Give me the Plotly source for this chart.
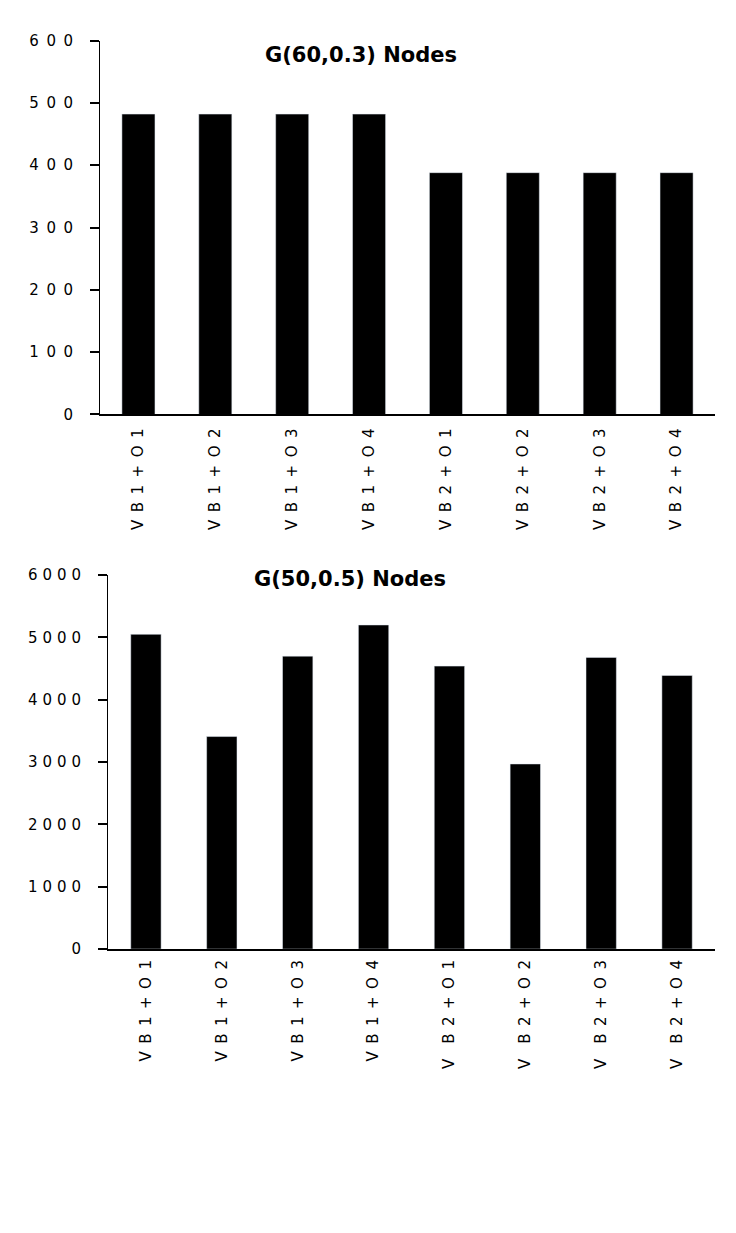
import plotly.graph_objects as go

W, H = 736, 1233
categories = ["VB1+O1", "VB1+O2", "VB1+O3", "VB1+O4", "VB2+O1", "VB2+O2", "VB2+O3", "VB2+O4"]
top_values = [482, 482, 482, 482, 388, 388, 388, 388]
bottom_values = [5050, 3410, 4700, 5200, 4540, 2970, 4680, 4390]
top_title = "G(60,0.3) Nodes"
bottom_title = "G(50,0.5) Nodes"
top_yticks = [0, 100, 200, 300, 400, 500, 600]
bottom_yticks = [0, 1000, 2000, 3000, 4000, 5000, 6000]

SP = "\u2002"   # en space to mimic letter spacing of original
SP3 = "\u2004"  # three-per-em space

def spaced(s, sep=SP):
    return sep.join(list(s))

def spaced_bottom(s):
    if s.startswith("VB2"):
        return "V" + SP + SP + SP.join(list(s[1:]))
    return SP.join(list(s))

top_ticktext = [spaced(c) for c in categories]
bottom_ticktext = [spaced_bottom(c) for c in categories]

def py(y):
    return 1 - y / H

def px(x):
    return x / W

FONT = "DejaVu Sans, Liberation Sans, Arial, sans-serif"

fig = go.Figure()
fig.add_trace(go.Bar(x=categories, y=top_values, marker_color="black", width=0.43,
                     xaxis="x", yaxis="y", showlegend=False))
fig.add_trace(go.Bar(x=categories, y=bottom_values, marker_color="black", width=0.40,
                     xaxis="x2", yaxis="y2", showlegend=False))

common_x = dict(showline=True, linecolor="black", linewidth=2, ticks="", showgrid=False,
                zeroline=False, tickangle=-90, tickfont=dict(family=FONT, size=15, color="black"),
                type="category")
common_y = dict(showline=True, linecolor="black", linewidth=1, ticks="outside", ticklen=9,
                tickwidth=2, tickcolor="black", showgrid=False, zeroline=False,
                tickfont=dict(family=FONT, size=15, color="black"), ticklabelstandoff=14)

fig.update_layout(
    width=W, height=H,
    margin=dict(l=0, r=0, t=0, b=0),
    paper_bgcolor="white", plot_bgcolor="white",
    bargap=0.57,
    xaxis=dict(common_x, domain=[px(100), px(715)], anchor="y",
               tickvals=categories, ticktext=top_ticktext, ticklabelstandoff=6),
    yaxis=dict(common_y, domain=[py(411.5), py(32)], range=[0, 600], anchor="x",
               tickvals=top_yticks, ticktext=[spaced(str(v)) for v in top_yticks]),
    xaxis2=dict(common_x, domain=[px(108), px(715)], anchor="y2",
                tickvals=categories, ticktext=bottom_ticktext, ticklabelstandoff=3),
    yaxis2=dict(common_y, domain=[py(954), py(574.5)], range=[0, 6000], anchor="x2",
                tickvals=bottom_yticks, ticktext=[spaced(str(v), SP3) for v in bottom_yticks]),
    annotations=[
        dict(text="<b>" + top_title + "</b>", x=px(361), y=py(47), xref="paper", yref="paper",
             showarrow=False, xanchor="center", yanchor="middle",
             font=dict(family=FONT, size=21, color="black")),
        dict(text="<b>" + bottom_title + "</b>", x=px(350), y=py(578), xref="paper", yref="paper",
             showarrow=False, xanchor="center", yanchor="middle",
             font=dict(family=FONT, size=21, color="black")),
    ],
)

fig.write_html("out.html")
